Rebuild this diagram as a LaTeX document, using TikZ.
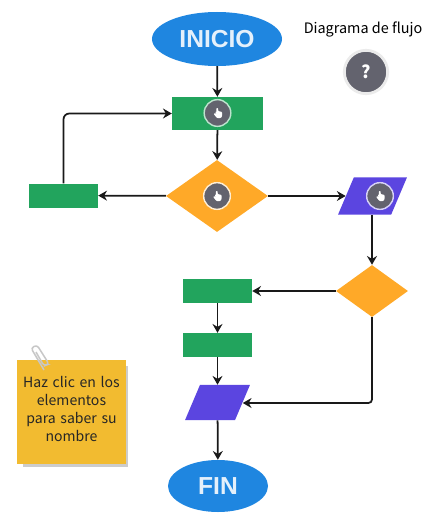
\documentclass[tikz,border=0pt]{standalone}
\usepackage{fontspec}
\setmainfont{Noto Sans CJK SC}
\newfontfamily\headfont{Liberation Sans}
\usetikzlibrary{shapes.geometric,arrows.meta,shadows}
\definecolor{flowblue}{HTML}{1F86E0}
\definecolor{flowgreen}{HTML}{22A45D}
\definecolor{floworange}{HTML}{FFA928}
\definecolor{flowviolet}{HTML}{5B45E0}
\definecolor{flownote}{HTML}{F2BB30}
\definecolor{flowgrey}{HTML}{63636E}
\begin{document}
\begin{tikzpicture}[
  x=0.03cm,y=-0.03cm,
  >={Stealth[length=7.5pt,width=8.5pt,inset=2.5pt]},
  terminal/.style={ellipse,fill=flowblue,text=white!88!flowblue,inner sep=0pt,
    font=\headfont\fontsize{21}{21}\selectfont\bfseries},
  process/.style={rectangle,fill=flowgreen,inner sep=0pt,minimum width=2.07cm,minimum height=0.72cm},
  decision/.style={diamond,fill=floworange,inner sep=0pt},
  inout/.style={trapezium,trapezium left angle=67,
    trapezium right angle=113,fill=flowviolet,inner sep=0.5pt},
  flow/.style={->,line width=1.5pt,black!90},
  clicker/.style={circle,fill=flowgrey,draw=#1,line width=1.2pt,minimum size=0.8cm,inner sep=0pt},
  hand/.pic={
    \fill[white,rounded corners=0.4pt] (-1.8,0.5) -- (-1.8,-1.5) -- (0,-1.5) -- (0,0.5) -- cycle;
    \fill[white,rounded corners=0.6pt] (-1.2,-1) -- (-1.2,-5) -- (0.6,-5) -- (0.6,-2) -- (4.6,-1) -- (4.6,3) -- (3.4,5) -- (-0.6,5) -- (-3.8,1) -- (-2.6,0) -- (-1.2,1) -- cycle;
  },
  caption/.style={font=\fontsize{12.3}{14}\selectfont},
  postit/.style={rectangle,fill=flownote,align=center,text width=3.1cm,inner sep=0pt,
    minimum width=3.27cm,minimum height=3.12cm,text=black!85,
    font=\fontsize{12}{15.4}\selectfont,
    drop shadow={shadow xshift=0.12cm,shadow yshift=-0.135cm,shadow scale=0.97,fill=black!20,opacity=1}}
]
\useasboundingbox (0,0) rectangle (434,532);

\node[terminal,minimum width=3.9cm,minimum height=1.62cm] (start) at (217,39) {INICIO};
\node[process,minimum width=2.73cm,minimum height=0.99cm] (calc) at (217.5,113.5) {};
\node[decision,minimum width=3.06cm,minimum height=2.16cm] (check) at (217,196) {};
\node[process] (back) at (63.5,195.5) {};
\node[inout,minimum width=2.07cm,minimum height=1.08cm] (read) at (372.5,196) {};
\node[decision,minimum width=2.16cm,minimum height=1.56cm] (test) at (372,291) {};
\node[process] (first) at (217.5,291) {};
\node[process] (second) at (217.5,345) {};
\node[inout,minimum width=1.95cm,minimum height=0.93cm] (write) at (217.5,402.5) {};
\node[terminal,minimum width=3cm,minimum height=1.56cm] (stop) at (218,486) {FIN};

\coordinate (elbow) at (372,403);

\draw[flow] (start) -- (calc);
\draw[flow] (calc) -- (check);
\draw[flow] (check) -- (back);
\draw[flow,rounded corners=5pt] (back.north) |- (calc.west);
\draw[flow] (check) -- (read);
\draw[flow] (read.south -| test.north) -- (test.north);
\draw[flow] (test) -- (first);
\draw[flow] (first) -- (second);
\draw[flow] (second) -- (write);
\draw[flow,rounded corners=3pt] (test.south) -- (elbow) -- (write.east |- elbow);
\draw[flow] (write) -- (stop);

\node[clicker=flowgreen!30!white] (clickcalc) at (217.5,113) {};
\node[clicker=floworange!20!white] (clickcheck) at (217,196) {};
\node[clicker=flowviolet!25!white] (clickread) at (380,196) {};
\foreach \place in {clickcalc,clickcheck,clickread}
  \pic at (\place) {hand};

\node[caption] (title) at (363,29.5) {Diagrama de flujo};
\node[circle,fill=flowgrey,draw=black!8,line width=2.4pt,minimum size=1.3cm,inner sep=0pt,
  text=white,font=\fontsize{15}{15}\selectfont\bfseries] (help) at (366,72) {?};

\node[postit] (note) at (71.5,412) {Haz clic en los\\elementos\\para saber su\\nombre\par\vspace{5pt}};

% paper clip
\draw[black!22,line width=1.3pt,rounded corners=2.5pt] (36,352) -- (44,366) -- (49,364) -- (37,345) -- (31,348) -- (44,370);
\end{tikzpicture}
\end{document}
